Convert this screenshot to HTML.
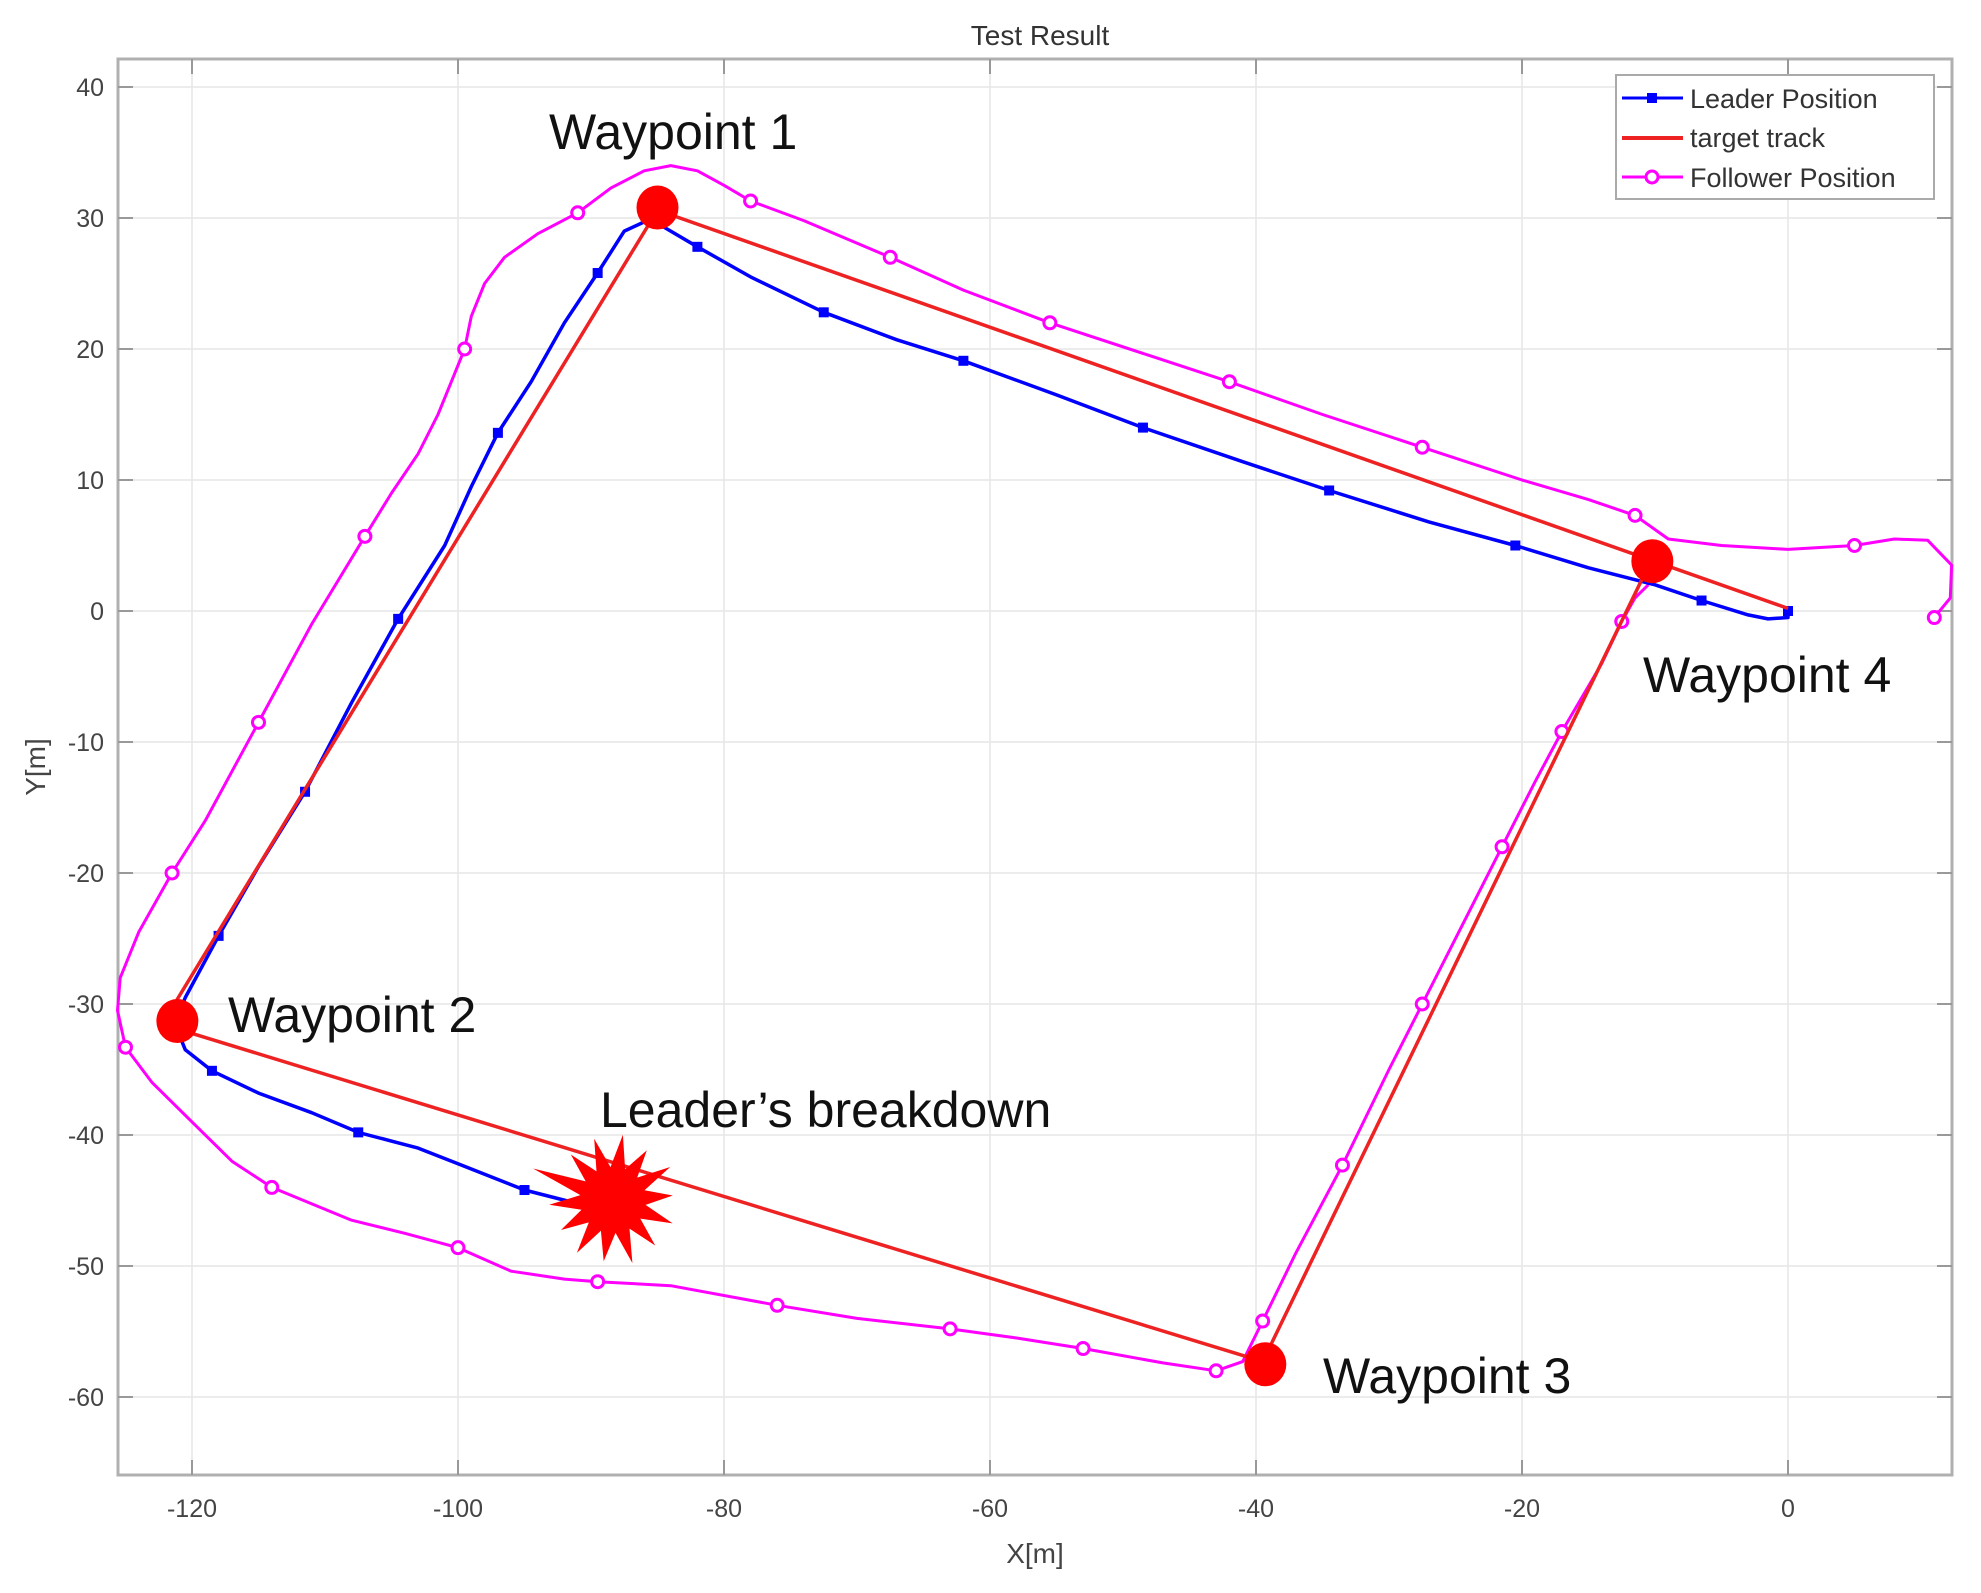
<!DOCTYPE html>
<html><head><meta charset="utf-8">
<style>
html,body{margin:0;padding:0;background:#fff;}
svg{display:block;font-family:"Liberation Sans",Arial,sans-serif;}
</style></head>
<body>
<svg id="s" width="1981" height="1593" viewBox="0 0 1981 1593" xmlns="http://www.w3.org/2000/svg">
<rect width="1981" height="1593" fill="#fff"/>
<g id="grid" stroke="#e6e6e6" stroke-width="1.5"></g>
<rect x="118" y="59" width="1834" height="1416" fill="none" stroke="#b0b0b0" stroke-width="3"/>
<g id="ticks" stroke="#999" stroke-width="2"></g>
<g id="labels" fill="#444" font-size="25"></g>
<text x="1040" y="45" font-size="28" fill="#333" text-anchor="middle">Test Result</text>
<text x="1035" y="1563" font-size="28" fill="#444" text-anchor="middle">X[m]</text>
<text transform="translate(45,767) rotate(-90)" font-size="28" fill="#444" text-anchor="middle">Y[m]</text>
<g id="data"></g>
<g font-size="50" fill="#111">
<text x="549" y="149">Waypoint 1</text>
<text x="228" y="1032">Waypoint 2</text>
<text x="1323" y="1393">Waypoint 3</text>
<text x="1643" y="692">Waypoint 4</text>
<text x="600" y="1127">Leader’s breakdown</text>
</g>
<rect x="1616" y="75" width="318" height="124" fill="#fff" stroke="#aaa" stroke-width="2"/>
<line x1="1622" y1="98" x2="1683" y2="98" stroke="#0000ff" stroke-width="3"/>
<rect x="1647" y="93" width="10" height="10" fill="#0000ff"/>
<line x1="1622" y1="138" x2="1683" y2="138" stroke="#ee2222" stroke-width="4"/>
<line x1="1622" y1="177" x2="1683" y2="177" stroke="#ff00ff" stroke-width="3"/>
<circle cx="1652" cy="177" r="6" fill="#fff" stroke="#ff00ff" stroke-width="3"/>
<g font-size="27" fill="#333">
<text x="1690" y="108">Leader Position</text>
<text x="1690" y="147">target track</text>
<text x="1690" y="187">Follower Position</text>
</g>
</svg>
<script>
var X=function(x){return 1788+13.3*x;},Y=function(y){return 611-13.1*y;};
var NS="http://www.w3.org/2000/svg";
function el(p,t,a){var e=document.createElementNS(NS,t);for(var k in a)e.setAttribute(k,a[k]);p.appendChild(e);return e;}
var g=document.getElementById('grid'),tk=document.getElementById('ticks'),lb=document.getElementById('labels'),d=document.getElementById('data');
for(var x=-120;x<=0;x+=20){var px=X(x);el(g,'line',{x1:px,y1:59,x2:px,y2:1475});el(tk,'line',{x1:px,y1:1475,x2:px,y2:1460});el(tk,'line',{x1:px,y1:59,x2:px,y2:74});var t=el(lb,'text',{x:px,y:1517,'text-anchor':'middle'});t.textContent=x;}
for(var y=-60;y<=40;y+=10){var py=Y(y);el(g,'line',{x1:118,y1:py,x2:1952,y2:py});el(tk,'line',{x1:118,y1:py,x2:133,y2:py});el(tk,'line',{x1:1952,y1:py,x2:1937,y2:py});var t=el(lb,'text',{x:104,y:py+9,'text-anchor':'end'});t.textContent=y;}
function path(pts,c,w){var s='';pts.forEach(function(p,i){s+=(i?'L':'M')+X(p[0]).toFixed(1)+','+Y(p[1]).toFixed(1);});el(d,'path',{d:s,fill:'none',stroke:c,'stroke-width':w,'stroke-linejoin':'round'});}
var follower=[[-10.5,2],[-11.5,1],[-12.5,-0.8],[-14,-4],[-17,-9.2],[-19,-13],[-21.5,-18],[-24,-23],[-27.5,-30],[-30,-35],[-33.5,-42.3],[-37,-49],[-39.5,-54.2],[-41,-57.3],[-43,-58],[-47,-57.4],[-53,-56.3],[-58,-55.5],[-63,-54.8],[-70,-54],[-76,-53],[-84,-51.5],[-89.5,-51.2],[-92,-51],[-96,-50.4],[-100,-48.6],[-104,-47.5],[-108,-46.5],[-114,-44],[-117,-42],[-120,-39],[-123,-36],[-125,-33.3],[-125.6,-30.5],[-125.4,-28],[-124,-24.5],[-121.5,-20],[-119,-16],[-115,-8.5],[-111,-1],[-107,5.7],[-105,9],[-103,12],[-101.5,15],[-100.3,18],[-99.5,20],[-99,22.5],[-98,25],[-96.5,27],[-94,28.8],[-91,30.4],[-88.5,32.3],[-86,33.6],[-84,34],[-82,33.6],[-80,32.5],[-78,31.3],[-74,29.8],[-67.5,27],[-62,24.5],[-55.5,22],[-48,19.5],[-42,17.5],[-35,15],[-27.5,12.5],[-20,10],[-15,8.5],[-11.5,7.3],[-9,5.5],[-5,5],[0,4.7],[5,5],[8,5.5],[10.5,5.4],[12.3,3.5],[12.2,1],[11,-0.5]];
var fm=[[11,-0.5],[5,5],[-11.5,7.3],[-27.5,12.5],[-42,17.5],[-55.5,22],[-67.5,27],[-78,31.3],[-91,30.4],[-99.5,20],[-107,5.7],[-115,-8.5],[-121.5,-20],[-125,-33.3],[-114,-44],[-100,-48.6],[-89.5,-51.2],[-76,-53],[-63,-54.8],[-53,-56.3],[-43,-58],[-39.5,-54.2],[-33.5,-42.3],[-27.5,-30],[-21.5,-18],[-17,-9.2],[-12.5,-0.8]];
var leader=[[0,0],[0,-0.5],[-1.5,-0.6],[-3,-0.3],[-6.5,0.8],[-10,2],[-15,3.3],[-20.5,5],[-27,6.8],[-34.5,9.2],[-41,11.4],[-48.5,14],[-55,16.5],[-62,19.1],[-67,20.7],[-72.5,22.8],[-78,25.5],[-82,27.8],[-84.5,29.3],[-86,29.7],[-87.5,29],[-89.5,25.8],[-92,22],[-94.5,17.5],[-97,13.6],[-99,9.5],[-101,5],[-104.5,-0.6],[-108,-7],[-111.5,-13.8],[-115,-19.5],[-118,-24.8],[-120.5,-29.5],[-121.3,-31.5],[-120.5,-33.5],[-118.5,-35.1],[-115,-36.8],[-111,-38.3],[-107.5,-39.8],[-103,-41],[-100,-42.2],[-95,-44.2],[-90,-45.5]];
var lm=[[0,0],[-6.5,0.8],[-20.5,5],[-34.5,9.2],[-48.5,14],[-62,19.1],[-72.5,22.8],[-82,27.8],[-89.5,25.8],[-97,13.6],[-104.5,-0.6],[-111.5,-13.8],[-118,-24.8],[-118.5,-35.1],[-107.5,-39.8],[-95,-44.2]];
path(follower,'#ff00ff',3);
fm.forEach(function(p){el(d,'circle',{cx:X(p[0]),cy:Y(p[1]),r:6,fill:'#fff',stroke:'#ff00ff','stroke-width':3});});
path(leader,'#0000ff',3.5);
lm.forEach(function(p){el(d,'rect',{x:X(p[0])-5,y:Y(p[1])-5,width:10,height:10,fill:'#0000ff'});});
path([[0,0.2],[-85,30.6],[-121.2,-29.8]],'#ee2222',3.5);
path([[-120.8,-32],[-39.5,-57.3],[-10.8,2.8]],'#ee2222',3.5);
[[-85,30.8],[-121.1,-31.3],[-39.3,-57.5],[-10.2,3.8]].forEach(function(p){el(d,'ellipse',{cx:X(p[0]),cy:Y(p[1]),rx:21,ry:22,fill:'#ff0000'});});
var cx=613,cy=1200,n=14,pts=[],ro=[66,60,66,60,64,62,66,62,64,60,64,86,62,64],ri=33;
for(var i=0;i<n*2;i++){var a=-Math.PI/2+i*Math.PI/n+0.15;var r=i%2?ri:ro[i/2|0];pts.push((cx+r*Math.cos(a)).toFixed(1)+','+(cy+r*Math.sin(a)).toFixed(1));}
el(d,'polygon',{points:pts.join(' '),fill:'#ff0000'});
</script>
</body></html>
